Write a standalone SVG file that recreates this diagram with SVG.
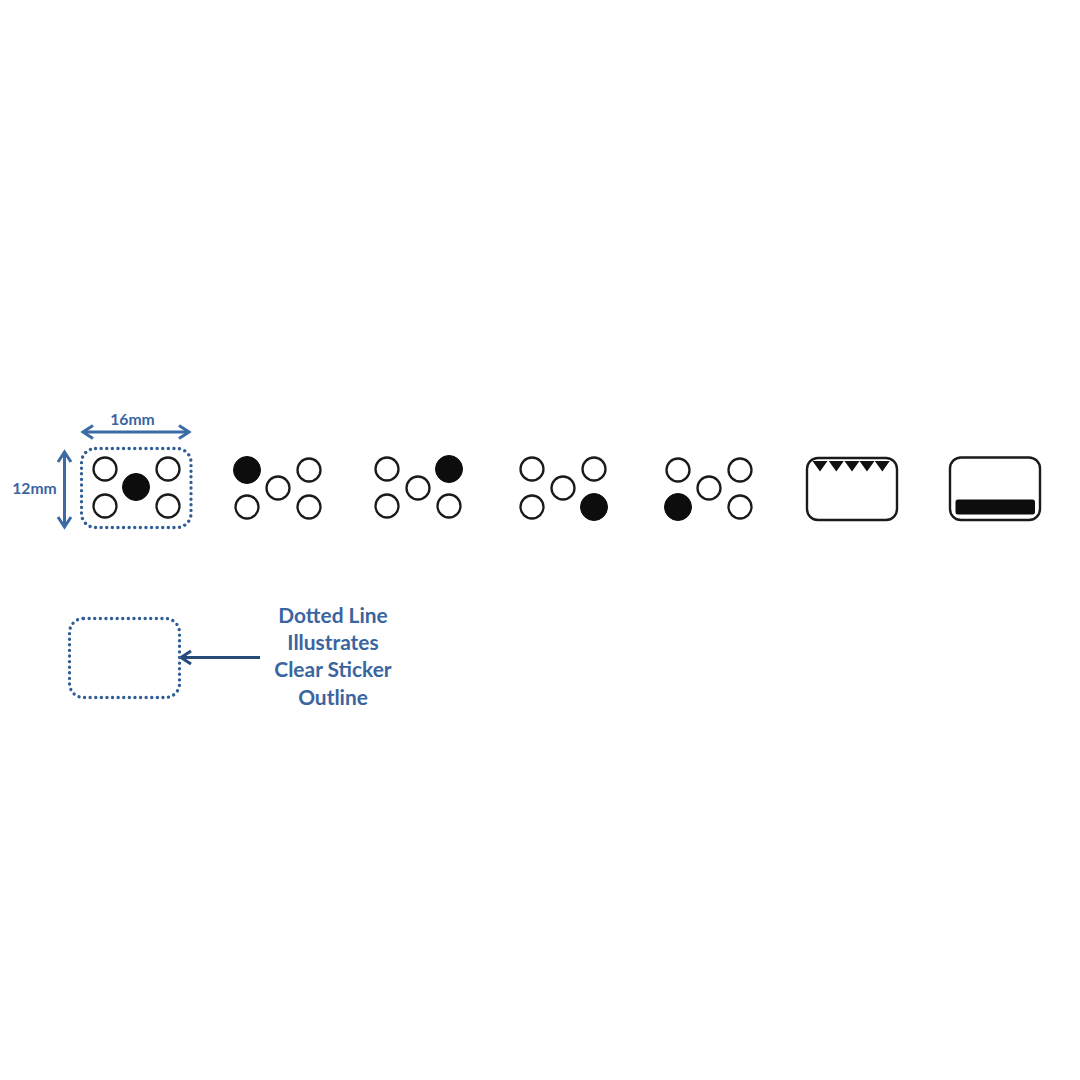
<svg xmlns="http://www.w3.org/2000/svg" width="1080" height="1080" viewBox="0 0 1080 1080">
<style>
.o{fill:#fff;stroke:#1a1a1a;stroke-width:2.300}
.f{fill:#0d0d0d;stroke:#0d0d0d;stroke-width:1}
.frame{fill:#fff;stroke:#1a1a1a;stroke-width:2.400}
.dot{fill:none;stroke:#2f5d94;stroke-width:3.300;stroke-dasharray:0.1 5.500;stroke-linecap:round}
.lbl{font-family:Lato,"Liberation Sans",sans-serif;font-weight:700;fill:#3a659f;text-anchor:middle}
.dim{fill:none;stroke:#3a6ba5;stroke-width:3}
.tri{fill:#111}
</style>
<rect width="1080" height="1080" fill="#fff"/>
<g id="connectors">
<g class="dim"><path d="M84 432H188"/><path d="M93 425.500L83 432L93 438.500"/><path d="M179 425.500L189 432L179 438.500"/>
<path d="M64.500 454V525"/><path d="M58 462L64.500 452L71 462"/><path d="M58 517L64.500 527L71 517"/></g>
<g fill="none" stroke="#264a7a" stroke-width="3"><path d="M183 657.500H260"/><path d="M191 651L181 657.500L191 664"/></g>
</g>
<g id="node-1">
<rect class="dot" x="81.500" y="448.500" width="109.500" height="79" rx="14"/>
<circle class="o" cx="105" cy="469" r="11.500"/><circle class="o" cx="168" cy="469" r="11.500"/><circle class="o" cx="105" cy="506" r="11.500"/><circle class="o" cx="168" cy="506" r="11.500"/><circle class="f" cx="136" cy="487" r="13.500"/>
</g>
<g id="node-2">
<circle class="f" cx="247" cy="470" r="13.500"/><circle class="o" cx="309" cy="470" r="11.500"/><circle class="o" cx="278" cy="488" r="11.500"/><circle class="o" cx="247" cy="507" r="11.500"/><circle class="o" cx="309" cy="507" r="11.500"/>
</g>
<g id="node-3">
<circle class="o" cx="387" cy="469" r="11.500"/><circle class="f" cx="449" cy="469" r="13.500"/><circle class="o" cx="418" cy="488" r="11.500"/><circle class="o" cx="387" cy="506" r="11.500"/><circle class="o" cx="449" cy="506" r="11.500"/>
</g>
<g id="node-4">
<circle class="o" cx="532" cy="469" r="11.500"/><circle class="o" cx="594" cy="469" r="11.500"/><circle class="o" cx="563" cy="488" r="11.500"/><circle class="o" cx="532" cy="507" r="11.500"/><circle class="f" cx="594" cy="507" r="13.500"/>
</g>
<g id="node-5">
<circle class="o" cx="678" cy="470" r="11.500"/><circle class="o" cx="740" cy="470" r="11.500"/><circle class="o" cx="709" cy="488" r="11.500"/><circle class="f" cx="678" cy="507" r="13.500"/><circle class="o" cx="740" cy="507" r="11.500"/>
</g>
<g id="node-6">
<rect class="frame" x="807" y="458" width="90" height="62" rx="11"/>
<path class="tri" d="M812.500 461h15l-7.500 10.500zM828.800 461h15l-7.500 10.500zM844.500 461h15l-7.500 10.500zM859.500 461h15l-7.500 10.500zM874.800 461h15l-7.500 10.500z"/>
</g>
<g id="node-7">
<rect class="frame" x="950" y="457.500" width="90" height="62.500" rx="11"/>
<rect x="955.500" y="499.500" width="79.500" height="15" rx="2.500" fill="#0d0d0d"/>
</g>
<g id="node-8">
<rect class="dot" x="69.500" y="618.500" width="110" height="79" rx="14"/>
</g>
<g id="labels">
<text class="lbl" x="132.500" y="424.500" font-size="15.700">16mm</text>
<text class="lbl" x="34.500" y="493.500" font-size="15.700">12mm</text>
<g font-size="20.900">
<text class="lbl" x="333" y="622.500">Dotted Line</text>
<text class="lbl" x="333" y="650">Illustrates</text>
<text class="lbl" x="333" y="677">Clear Sticker</text>
<text class="lbl" x="333" y="704.500">Outline</text>
</g>
</g>
</svg>
